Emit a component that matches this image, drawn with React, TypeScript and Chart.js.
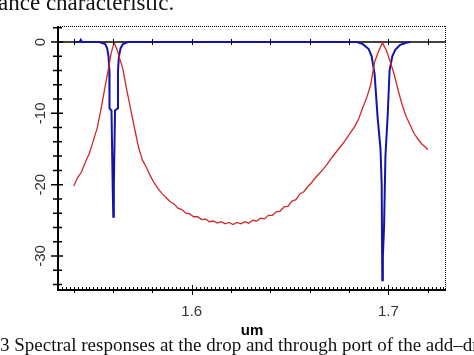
import React, { useEffect, useRef } from "react";
import { Chart, registerables } from "chart.js";

Chart.register(...registerables);

// Drop port response (red), wavelength in um, value in dB
const dropX = [
  1.540, 1.542, 1.544, 1.546, 1.548, 1.550, 1.552, 1.554, 1.556, 1.558, 1.559, 1.5605,
  1.562, 1.563, 1.565, 1.567, 1.569, 1.571, 1.573, 1.575, 1.577, 1.579, 1.581, 1.583,
  1.585, 1.587, 1.589, 1.591, 1.593, 1.595, 1.597, 1.599, 1.601, 1.603, 1.605, 1.607,
  1.609, 1.611, 1.613, 1.615, 1.617, 1.619, 1.621, 1.623, 1.625, 1.627, 1.629, 1.631,
  1.633, 1.635, 1.637, 1.639, 1.641, 1.643, 1.645, 1.647, 1.649, 1.651, 1.653, 1.655,
  1.657, 1.659, 1.661, 1.663, 1.665, 1.667, 1.669, 1.671, 1.673, 1.675, 1.677, 1.679,
  1.681, 1.683, 1.685, 1.687, 1.689, 1.691, 1.693, 1.695, 1.697, 1.699, 1.701, 1.703,
  1.705, 1.707, 1.709, 1.711, 1.713, 1.715, 1.717, 1.719, 1.720,
];
const dropY = [
  -20.2, -19.0, -18.2, -16.8, -15.6, -13.8, -12.0, -9.2, -6.2, -3.2, -1.6, -0.1,
  -1.0, -2.0, -3.8, -6.8, -9.5, -12.2, -14.8, -16.6, -17.6, -18.8, -19.8, -20.6,
  -21.3, -21.8, -22.4, -22.7, -23.3, -23.5, -24.0, -24.1, -24.5, -24.5, -24.9, -24.8,
  -25.2, -25.1, -25.4, -25.2, -25.5, -25.3, -25.6, -25.3, -25.5, -25.2, -25.4, -25.0,
  -25.1, -24.7, -24.8, -24.3, -24.3, -23.8, -23.7, -23.1, -23.0, -22.3, -22.1, -21.3,
  -21.0, -20.3, -19.7, -19.0, -18.4, -17.8, -17.1, -16.3, -15.6, -14.9, -14.2, -13.4,
  -12.6, -11.8, -10.7, -9.2, -7.8, -6.0, -2.8, -1.3, -0.1, -1.2, -2.8, -4.6,
  -6.8, -8.8, -10.4, -11.6, -12.8, -13.6, -14.3, -14.8, -15.1,
];

// Through port response (blue)
const thruX = [
  1.5405, 1.5430, 1.5436, 1.5442, 1.5450, 1.5530, 1.5560, 1.5570, 1.5577, 1.5581, 1.5582,
  1.5592, 1.5598, 1.5601, 1.5604, 1.5610, 1.5624, 1.5625, 1.5630, 1.5638, 1.5650, 1.5675,
  1.6840, 1.6870, 1.6900, 1.6915, 1.6930, 1.6945, 1.6960, 1.6966, 1.6969, 1.6972, 1.6978,
  1.6985, 1.6997, 1.7006, 1.7020, 1.7035, 1.7060, 1.7090, 1.7110,
];
const thruY = [
  0, 0, 0.3, 0, 0, 0, -0.3, -0.9, -2.0, -4.0, -9.3,
  -9.6, -20, -24.5, -20, -9.6, -9.3, -4.0, -2.0, -0.9, -0.3, 0,
  0, -0.3, -1.0, -2.0, -4.5, -10.5, -15.0, -20, -33.4, -30, -26,
  -16, -10, -4.0, -2.0, -1.1, -0.4, -0.1, 0,
];

// Axis ranges and tick labels
const xRange = [1.532, 1.7293];
const yRange = [-34.77, 2.24];
const xTickLabels = [1.6, 1.7];
const yTickLabels = [0, -10, -20, -30];
const xAxisTitle = "um";

const topCaption = "ance characteristic.";
const bottomCaption = "3 Spectral responses at the drop and through port of the add\u2013drop";

const axesPlugin = {
  id: "customAxes",
  beforeDatasetsDraw(chart: any) {
    const { ctx, chartArea: a, scales } = chart;
    const y0 = scales.y.getPixelForValue(0);
    ctx.save();
    ctx.strokeStyle = "#000";
    ctx.lineWidth = 1.5;
    ctx.beginPath();
    ctx.moveTo(a.left, y0);
    ctx.lineTo(a.right, y0);
    ctx.stroke();
    ctx.restore();
  },
  afterDatasetsDraw(chart: any) {
    const { ctx, chartArea: a, scales } = chart;
    const xs = scales.x;
    const ys = scales.y;
    const y0 = ys.getPixelForValue(0);
    ctx.save();
    ctx.strokeStyle = "#000";
    ctx.lineWidth = 1;
    // ticks on zero line
    ctx.beginPath();
    for (let i = 0; i <= 9; i++) {
      const v = 1.54 + i * 0.02;
      const px = Math.round(xs.getPixelForValue(v)) + 0.5;
      ctx.moveTo(px, y0 - 3);
      ctx.lineTo(px, y0 + 3);
    }
    ctx.stroke();

    // dotted top / right border
    ctx.setLineDash([1, 1]);
    ctx.beginPath();
    ctx.moveTo(a.left, a.top + 0.5);
    ctx.lineTo(a.right, a.top + 0.5);
    ctx.moveTo(a.right - 0.5, a.top);
    ctx.lineTo(a.right - 0.5, a.bottom);
    ctx.stroke();
    ctx.setLineDash([]);

    // left and bottom axes
    ctx.lineWidth = 2;
    ctx.beginPath();
    ctx.moveTo(a.left, a.top);
    ctx.lineTo(a.left, a.bottom + 1);
    ctx.moveTo(a.left - 1, a.bottom);
    ctx.lineTo(a.right, a.bottom);
    ctx.stroke();

    // y ticks
    ctx.lineWidth = 1.5;
    ctx.beginPath();
    for (let v = 2; v >= -34; v -= 2) {
      const py = ys.getPixelForValue(v);
      const major = yTickLabels.indexOf(v) >= 0;
      ctx.moveTo(a.left - (major ? 7 : 5), py);
      ctx.lineTo(a.left + (major ? 5 : 4), py);
    }
    ctx.stroke();

    // x ticks
    ctx.lineWidth = 1;
    ctx.beginPath();
    for (let i = 0; i <= 97; i++) {
      const v = 1.534 + i * 0.002;
      const px = Math.round(xs.getPixelForValue(v)) + 0.5;
      ctx.moveTo(px, a.bottom);
      ctx.lineTo(px, a.bottom - 3);
    }
    for (let i = 0; i <= 9; i++) {
      const v = 1.54 + i * 0.02;
      const px = Math.round(xs.getPixelForValue(v)) + 0.5;
      const major = xTickLabels.some((t) => Math.abs(t - v) < 1e-6);
      ctx.moveTo(px, a.bottom - (major ? 5 : 3));
      ctx.lineTo(px, a.bottom + (major ? 5 : 3));
    }
    ctx.stroke();

    // labels
    ctx.fillStyle = "#333";
    ctx.font = "15px 'Liberation Sans', Arial, sans-serif";
    ctx.textAlign = "center";
    ctx.textBaseline = "middle";
    xTickLabels.forEach((t) => {
      ctx.fillText(t.toFixed(1), xs.getPixelForValue(t), a.bottom + 22);
    });
    yTickLabels.forEach((t) => {
      const py = ys.getPixelForValue(t);
      ctx.save();
      ctx.translate(a.left - 17, py);
      ctx.rotate(-Math.PI / 2);
      ctx.fillText(String(t), 0, 0);
      ctx.restore();
    });
    ctx.fillStyle = "#000";
    ctx.font = "bold 15px 'Liberation Sans', Arial, sans-serif";
    ctx.fillText(xAxisTitle, (a.left + a.right) / 2, a.bottom + 41);
    ctx.restore();
  },
};

export default function App() {
  const ref = useRef<HTMLCanvasElement | null>(null);
  useEffect(() => {
    if (!ref.current) return;
    const chart = new Chart(ref.current, {
      type: "line",
      data: {
        datasets: [
          {
            label: "drop",
            data: dropX.map((x, i) => ({ x, y: dropY[i] })),
            borderColor: "#d02828",
            borderWidth: 1.3,
            pointRadius: 0,
            tension: 0,
          },
          {
            label: "through",
            data: thruX.map((x, i) => ({ x, y: thruY[i] })),
            borderColor: "#1414a8",
            borderWidth: 2,
            pointRadius: 0,
            tension: 0,
          },
        ],
      },
      options: {
        responsive: false,
        animation: false,
        devicePixelRatio: 1,
        layout: { padding: { left: 58, top: 26, right: 28, bottom: 65 } },
        plugins: { legend: { display: false }, tooltip: { enabled: false } },
        scales: {
          x: { type: "linear", min: xRange[0], max: xRange[1], display: false },
          y: { type: "linear", min: yRange[0], max: yRange[1], display: false },
        },
      },
      plugins: [axesPlugin],
    });
    return () => chart.destroy();
  }, []);

  return (
    <div style={{ position: "fixed", left: 0, top: 0, width: 474, height: 355, overflow: "hidden", background: "#fff" }}>
      <canvas ref={ref} width={474} height={355} style={{ position: "absolute", left: 0, top: 0, width: 474, height: 355 }} />
      <div style={{ position: "absolute", left: -2, top: -9, fontFamily: "'Liberation Serif', 'Times New Roman', serif", fontSize: 23, lineHeight: "24px", color: "#111", whiteSpace: "nowrap" }}>
        {topCaption}
      </div>
      <div style={{ position: "absolute", left: 0, top: 335, fontFamily: "'Liberation Serif', 'Times New Roman', serif", fontSize: 19, lineHeight: "20px", color: "#111", whiteSpace: "nowrap" }}>
        {bottomCaption}
      </div>
    </div>
  );
}
